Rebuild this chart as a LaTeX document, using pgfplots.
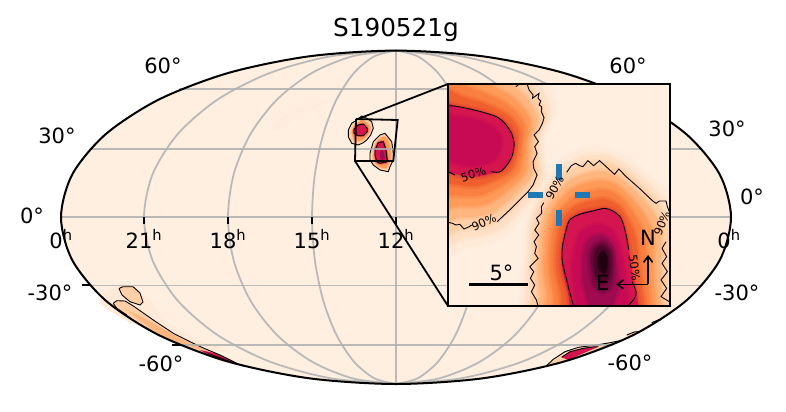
\documentclass[border=0pt]{standalone}
\usepackage{pgfplots}
\pgfplotsset{compat=1.18}
\usepackage{fontspec}
\setmainfont{DejaVu Sans}
\usetikzlibrary{arrows.meta}
\definecolor{bgc}{HTML}{FEEFE1}
\definecolor{gridc}{HTML}{B0B0B0}
\definecolor{Li}{HTML}{FEEDDD}
\definecolor{Lh}{HTML}{FFEAD8}
\definecolor{Lg}{HTML}{FFE0C6}
\definecolor{Lf}{HTML}{FFD0A8}
\definecolor{Le}{HTML}{FFB57E}
\definecolor{Ld}{HTML}{FF9A58}
\definecolor{Lc}{HTML}{F98040}
\definecolor{Lb}{HTML}{F0602E}
\definecolor{La}{HTML}{E23A38}
\definecolor{Ia}{HTML}{D5154F}
\definecolor{Ib}{HTML}{C80A55}
\definecolor{Ic}{HTML}{A00A50}
\definecolor{Id}{HTML}{780840}
\definecolor{Ie}{HTML}{480528}
\definecolor{If}{HTML}{200010}
\definecolor{crossb}{HTML}{1F77B4}
\tikzset{
  fl/.style={smooth cycle,draw=none,fill=#1},
  flb/.style={smooth cycle,draw=none,fill=#1,
     preaction={draw=#1,draw opacity=.3,line width=7bp},
     preaction={draw=#1,draw opacity=.4,line width=3.5bp}},
  flm/.style={smooth cycle,draw=none,fill=#1,
     preaction={draw=#1,draw opacity=.45,line width=2bp}},
  ct/.style={black,line width=0.9bp,sharp plot},
  ctS/.style={black,line width=0.9bp,smooth},
  gl/.style={gridc,opacity=.85,line width=1.8bp,smooth},
  gh/.style={gridc,opacity=.85,line width=1.8bp,sharp plot},
  bk/.style={black,line width=1.8bp,sharp plot},
}
\newcommand{\fs}[1]{\fontsize{#1bp}{#1bp}\selectfont}
\begin{document}
\begin{tikzpicture}
\useasboundingbox (0,0) rectangle (786bp,412bp);
\begin{axis}[at={(0,0)},anchor=south west,scale only axis,width=786bp,height=412bp,
  xmin=0,xmax=786,ymin=0,ymax=412,y dir=reverse,hide axis,clip=false]
% sky background
\addplot[draw=none,fill=bgc,smooth cycle] coordinates {(731,217.3)(719.6,260.4)(686.1,300.7)(632.9,335.2)(563.5,361.7)(482.7,378.3)(396,384)(309.3,378.3)(228.5,361.7)(159.1,335.2)(105.9,300.7)(72.4,260.4)(61,217.3)(72.4,174.2)(105.9,134)(159.1,99.4)(228.5,72.9)(309.3,56.3)(396,50.6)(482.7,56.3)(563.5,72.9)(632.9,99.4)(686.1,134)(719.6,174.2)};
% faint halos
\addplot[fl=Lh] coordinates {(100,302)(122,284)(150,300)(165,322)(195,338)(230,352)(190,345)(130,322)};
\addplot[fl=Li] coordinates {(272,125)(292,112)(315,100)(320,105)(296,118)(277,130)};
% southern crescents
\addplot[fl=Lf] coordinates {(119,288.5)(123,286.7)(133,286.7)(140,293)(143,302)(140,305)(130,301.7)(122,295)};
\addplot[draw=none,fill=Lf,sharp plot] coordinates {(113.3,303.3)(116.7,300.7)(125,301)(133.3,306)(153.3,320)(173.3,333.3)(193.3,343.3)(204,348.3)(220,355)(236.7,363.3)(242.7,366)(220,360.7)(200,353)(173.3,341.7)(146.7,326.7)(126.7,315)(116.7,308.3)} --cycle;
\addplot[draw=none,fill=Le,smooth,preaction={draw=Le,draw opacity=.45,line width=2bp}] coordinates {(130,312)(150,322)(175,336)(190,344)(204,350)(175,341)(150,328)} --cycle;
\addplot[draw=none,fill=Ia] coordinates {(200,350)(215,353)(230,359.5)(241,365.5)(225,361)(205,353)} --cycle;
\addplot[draw=none,fill=Ie] coordinates {(205,352)(220,357)(236.7,364)(222,360)} --cycle;
\addplot[draw=none,fill=Lf,sharp plot] coordinates {(546.7,365.5)(553.3,359.3)(565,351.7)(578.3,347.3)(596.7,345)(610,342.7)(620,340.7)(605,347.5)(590,353.2)(570,359.8)} --cycle;
\addplot[draw=none,fill=Ia,smooth] coordinates {(561.7,357.3)(570,351.7)(583.3,348.3)(595,346.7)(598.3,346.7)(583.3,353.3)(568.3,360)} --cycle;
\addplot[draw=none,fill=Lf] coordinates {(626.7,335)(635,331.7)(640,331.7)(630,337.3)} --cycle;
\addplot[ct] coordinates {(119,288.5)(123,286.7)(133,286.7)(140,293)(143,302)(140,305)(130,301.7)(122,295)(119,288.5)};
\addplot[ct] coordinates {(113.3,303.3)(116.7,300.7)(125,301)(133.3,306)(153.3,320)(173.3,333.3)(193.3,343.3)(204,348.3)(220,355)(236.7,363.3)(242.7,366)};
\addplot[ct] coordinates {(113.3,303.3)(116.7,308.3)(126.7,315)};
\addplot[ct] coordinates {(546.7,365.5)(553.3,359.3)(565,351.7)(578.3,347.3)(596.7,345)(610,342.7)(620,340.7)};
\addplot[ct] coordinates {(561.7,357.3)(570,351.7)(583.3,348.3)(595,346.7)(598.3,346.7)};
\addplot[ct] coordinates {(626.7,335)(635,331.7)(640,331.7)};
\addplot[ct] coordinates {(651.7,322.7)(658,320)(661,320)};
% northern blobs
\addplot[fl=Lf] coordinates {(356.7,120)(361.7,116)(366.7,118.3)(371.7,121.7)(373.3,128.3)(370.7,135)(366.7,140)(363.3,142.7)(358.3,145)(351.7,143.3)(348.3,136.7)(348.3,130)(351.7,123.3)};
\addplot[flm=Ld] coordinates {(358,123)(362,120.5)(366,122.5)(369,125)(370,129.5)(368,134)(365,137.5)(362.5,139.5)(359,141)(354.5,140)(352.5,135)(352.5,130.5)(354.5,126)};
\addplot[flm=Ia] coordinates {(354,129.3)(358.3,125)(363.3,124)(367.3,128.3)(367.3,131.7)(363.3,135.7)(358.3,135.7)(354,133.3)};
\addplot[ct] coordinates {(356.7,120)(361.7,116)(366.7,118.3)(371.7,121.7)(373.3,128.3)(370.7,135)(366.7,140)(363.3,142.7)(358.3,145)(351.7,143.3)(348.3,136.7)(348.3,130)(351.7,123.3)(356.7,120)};
\addplot[ct] coordinates {(354,129.3)(358.3,125)(363.3,124)(367.3,128.3)(367.3,131.7)(363.3,135.7)(358.3,135.7)(354,133.3)(354,129.3)};
\addplot[fl=Lf] coordinates {(370,153.3)(373.3,141.7)(380,135)(385,133.3)(391.7,141.7)(393.3,153.3)(393.3,160)(390,166.7)(388.3,171.7)(380,170)(373.3,165)(370,160)};
\addplot[flm=Ld] coordinates {(373.5,153)(376,143.5)(381,138.5)(385,137)(389,143.5)(390.5,153.3)(390.5,159)(388,164.5)(386,168)(380.5,167)(375.5,163)(373.5,159)};
\addplot[flm=Ia] coordinates {(375,150)(378.3,142.7)(383.3,141.7)(386,150)(387.3,161.7)(380,163.3)(376.7,161.7)(375,155)};
\addplot[fl=Ic] coordinates {(380,153)(382,150)(384,153)(384.5,159)(381,160.5)};
\addplot[ct] coordinates {(370,153.3)(373.3,141.7)(380,135)(385,133.3)(391.7,141.7)(393.3,153.3)(393.3,160)(390,166.7)(388.3,171.7)(380,170)(373.3,165)(370,160)(370,153.3)};
\addplot[ct] coordinates {(375,150)(378.3,142.7)(383.3,141.7)(386,150)(387.3,161.7)(380,163.3)(376.7,161.7)(375,155)(375,150)};
% graticule
\addplot[gh] coordinates {(179,89)(613,89)};
\addplot[gh] coordinates {(90,149)(702,149)};
\addplot[gh] coordinates {(61,217.3)(731,217.3)};
\addplot[gh] coordinates {(90,285.5)(702,285.5)};
\addplot[gh] coordinates {(179,345)(613,345)};
\addplot[gh] coordinates {(396,50.6)(396,384)};
\addplot[gl] coordinates {(396,50.6)(374.3,56.3)(354,72.9)(336.6,99.4)(323.3,134)(314.9,174.2)(312,217.3)(314.9,260.4)(323.3,300.7)(336.6,335.2)(354,361.7)(374.3,378.3)(396,384)};
\addplot[gl] coordinates {(396,50.6)(417.7,56.3)(438,72.9)(455.4,99.4)(468.7,134)(477.1,174.2)(480,217.3)(477.1,260.4)(468.7,300.7)(455.4,335.2)(438,361.7)(417.7,378.3)(396,384)};
\addplot[gl] coordinates {(396,50.6)(352.5,56.3)(312,72.9)(277.2,99.4)(250.5,134)(233.7,174.2)(228,217.3)(233.7,260.4)(250.5,300.7)(277.2,335.2)(312,361.7)(352.5,378.3)(396,384)};
\addplot[gl] coordinates {(396,50.6)(439.5,56.3)(480,72.9)(514.8,99.4)(541.5,134)(558.3,174.2)(564,217.3)(558.3,260.4)(541.5,300.7)(514.8,335.2)(480,361.7)(439.5,378.3)(396,384)};
\addplot[gl] coordinates {(396,50.6)(330.8,56.3)(270,72.9)(217.8,99.4)(177.8,134)(152.6,174.2)(144,217.3)(152.6,260.4)(177.8,300.7)(217.8,335.2)(270,361.7)(330.8,378.3)(396,384)};
\addplot[gl] coordinates {(396,50.6)(461.2,56.3)(522,72.9)(574.2,99.4)(614.2,134)(639.4,174.2)(648,217.3)(639.4,260.4)(614.2,300.7)(574.2,335.2)(522,361.7)(461.2,378.3)(396,384)};
% frame of the sky
\addplot[black,line width=2bp,smooth cycle] coordinates {(731,217.3)(719.6,260.4)(686.1,300.7)(632.9,335.2)(563.5,361.7)(482.7,378.3)(396,384)(309.3,378.3)(228.5,361.7)(159.1,335.2)(105.9,300.7)(72.4,260.4)(61,217.3)(72.4,174.2)(105.9,134)(159.1,99.4)(228.5,72.9)(309.3,56.3)(396,50.6)(482.7,56.3)(563.5,72.9)(632.9,99.4)(686.1,134)(719.6,174.2)};
% tick marks
\addplot[bk] coordinates {(144,217)(144,224)};
\addplot[bk] coordinates {(228,217)(228,224)};
\addplot[bk] coordinates {(312,217)(312,224)};
\addplot[bk] coordinates {(396,217)(396,224)};
\addplot[bk] coordinates {(81.7,285)(90,285)};
\addplot[bk] coordinates {(171.7,345)(181,345)};
% footprint of the inset
\addplot[bk] coordinates {(356,119)(397.7,120)(393.3,161)(355,161)(356,119)};
\addplot[bk] coordinates {(358,119)(448,84)};
\addplot[bk] coordinates {(355,161)(448,306)};
% texts
\node at (axis cs:396,30) {\fs{24.7}S190521g};
\node at (axis cs:163,66) {\fs{21}60°};
\node at (axis cs:628,66) {\fs{21}60°};
\node at (axis cs:57,136) {\fs{21}30°};
\node at (axis cs:727,129) {\fs{21}30°};
\node at (axis cs:32,216) {\fs{21}0°};
\node at (axis cs:752,197) {\fs{21}0°};
\node at (axis cs:50,293) {\fs{21}-30°};
\node at (axis cs:737,293) {\fs{21}-30°};
\node at (axis cs:161,364) {\fs{21}-60°};
\node at (axis cs:630,363) {\fs{21}-60°};
\node at (axis cs:61,239) {\fs{21}0\textsuperscript{h}};
\node at (axis cs:144,239) {\fs{21}21\textsuperscript{h}};
\node at (axis cs:228,239) {\fs{21}18\textsuperscript{h}};
\node at (axis cs:312,239) {\fs{21}15\textsuperscript{h}};
\node at (axis cs:396,239) {\fs{21}12\textsuperscript{h}};
\node at (axis cs:729,239) {\fs{21}0\textsuperscript{h}};
\end{axis}
% ---------------- inset ----------------
\begin{axis}[at={(448bp,106bp)},anchor=south west,scale only axis,width=222bp,height=222bp,
  xmin=24,xmax=692,ymin=27,ymax=693,y dir=reverse,xtick=\empty,ytick=\empty,
  axis on top,axis line style={black,line width=1.8bp},axis background/.style={fill=bgc}]
% level t=1.3
\addplot[flb=Lh] coordinates {(-20,-157)(177,-81)(302,5)(341,83)(338,124)(308,185)(313,250)(315,330)(197,474)(85,511)(-20,491)};
\addplot[flb=Lh] coordinates {(258,530)(258,460)(286,370)(365,260)(461,220)(547,243)(671,344)(720,427)(712,574)(712,706)(743,806)(264,806)(248,650)(251,587)};
% level t=1.15
\addplot[flb=Lg] coordinates {(-20,-128)(164,-60)(282,18)(323,89)(324,130)(298,188)(302,250)(300,325)(186,455)(78,486)(-20,466)};
\addplot[flb=Lg] coordinates {(270,530)(271,463)(298,378)(372,277)(465,241)(546,264)(658,359)(703,439)(697,577)(699,703)(727,803)(282,803)(264,650)(264,586)};
% level t=1
\addplot[flb=Lf] coordinates {(-20,-100)(150,-40)(262,30)(305,95)(310,135)(288,190)(290,250)(285,320)(175,435)(70,460)(-20,440)};
\addplot[flb=Lf] coordinates {(283,530)(285,465)(310,385)(380,295)(470,262)(545,285)(645,375)(685,450)(682,580)(685,700)(710,800)(300,800)(280,650)(278,585)};
% level t=.8
\addplot[flb=Le] coordinates {(-20,-62)(132,-13)(236,46)(281,103)(291,142)(275,193)(274,250)(265,313)(160,409)(60,426)(-20,406)};
\addplot[flb=Le] coordinates {(300,530)(303,468)(326,395)(390,318)(476,290)(544,313)(628,396)(662,465)(662,584)(667,696)(688,796)(324,796)(301,650)(296,584)};
% level t=.6
\addplot[flb=Ld] coordinates {(-20,-24)(114,15)(209,63)(257,111)(272,149)(262,196)(259,250)(245,306)(145,383)(50,392)(-20,372)};
\addplot[flb=Ld] coordinates {(317,530)(321,471)(342,405)(400,342)(482,318)(543,341)(611,417)(638,480)(641,588)(649,692)(666,792)(348,792)(322,650)(314,583)};
% level t=.4
\addplot[flb=Lc] coordinates {(-20,14)(96,42)(183,79)(233,119)(253,156)(248,199)(243,250)(225,299)(130,357)(40,358)(-20,338)};
\addplot[flb=Lc] coordinates {(333,530)(339,474)(358,415)(410,365)(488,346)(542,369)(594,438)(615,495)(621,592)(631,688)(644,788)(372,788)(343,650)(332,582)};
% level t=.2
\addplot[flb=Lb] coordinates {(-20,52)(78,70)(156,96)(209,127)(234,163)(235,202)(228,250)(205,292)(115,331)(30,324)(-20,304)};
\addplot[flb=Lb] coordinates {(350,530)(357,477)(374,425)(420,389)(494,374)(541,397)(577,459)(591,510)(600,596)(613,684)(622,784)(396,784)(364,650)(350,581)};
% level t=0, with its red fringe
\addplot[flb=La] coordinates {(-20,90)(60,97)(130,112)(185,135)(215,170)(222,205)(212,250)(185,285)(100,305)(20,290)(-20,270)};
\addplot[flb=La] coordinates {(367,530)(375,480)(390,435)(430,412)(500,402)(540,425)(560,480)(568,525)(580,600)(595,680)(600,780)(420,780)(385,650)(368,580)};
\addplot[fl=Ia] coordinates {(-20,90)(60,97)(130,112)(185,135)(215,170)(222,205)(212,250)(185,285)(100,305)(20,290)(-20,270)};
\addplot[fl=Ia] coordinates {(367,530)(375,480)(390,435)(430,412)(500,402)(540,425)(560,480)(568,525)(580,600)(595,680)(600,780)(420,780)(385,650)(368,580)};
% inner levels
\addplot[flb=Ib] coordinates {(10,130)(66,128)(115,138)(155,155)(178,180)(182,205)(175,235)(155,258)(100,272)(42,262)(10,245)};
\addplot[flb=Ib] coordinates {(400,560)(420,480)(470,450)(520,470)(545,540)(560,640)(560,720)(430,720)(405,640)};
\addplot[flb=Ic] coordinates {(430,560)(445,500)(485,480)(520,510)(530,570)(535,640)(510,700)(460,700)(435,640)};
\addplot[flb=Id] coordinates {(452,550)(462,515)(490,500)(515,525)(520,580)(515,630)(490,650)(462,625)};
\addplot[flb=Ie] coordinates {(465,550)(472,525)(490,515)(508,535)(510,575)(505,610)(488,620)(470,600)};
\addplot[flm=If] coordinates {(476,555)(482,535)(492,530)(502,545)(503,570)(498,590)(488,592)(478,578)};
% crosshair
\addplot[crossb,line width=6bp,sharp plot] coordinates {(358,267)(358,315)};
\addplot[crossb,line width=6bp,sharp plot] coordinates {(358,405)(358,452)};
\addplot[crossb,line width=6bp,sharp plot] coordinates {(265,360)(311,360)};
\addplot[crossb,line width=6bp,sharp plot] coordinates {(405,360)(451,360)};
% contours A
\addplot[ctS] coordinates {(24,92)(50,94)(90,102)(130,112)(170,125)(195,145)(215,175)(223,205)(218,240)(205,265)(185,288)(170,292)(155,290)};
\addplot[ctS] coordinates {(24,290)(45,300)};
\addplot[ct] coordinates {(228,35)(240,27)};
\addplot[ct] coordinates {(262,27)(268,45)(280,60)(278,70)(298,55)(295,70)(303,78)(298,90)(306,95)(305,110)(313,128)(308,145)(298,165)(283,180)(296,200)(285,215)(292,235)(280,260)(282,280)(292,300)(280,330)(265,350)(240,375)(215,400)(172,440)};
\addplot[ct] coordinates {(24,442)(38,445)(48,450)(60,448)(72,462)(88,455)(95,450)};
% contours B
\addplot[ct] coordinates {(381,292)(395,272)(408,265)(420,272)(430,275)(445,257)(462,272)(480,257)(500,275)(525,298)(538,282)(560,305)(600,340)(640,378)(650,385)(660,378)(680,378)(684,395)(690,410)};
\addplot[ct] coordinates {(312,383)(305,395)(306,415)(290,430)(298,445)(285,465)(297,480)(283,500)(290,515)(285,535)(295,550)(270,575)(282,590)(272,610)(285,630)(275,650)(290,675)(295,693)};
\addplot[ct] coordinates {(680,500)(668,520)(682,545)(668,565)(684,590)(665,615)(682,640)(665,665)(690,680)};
\addplot[ctS] coordinates {(568,525)(560,480)(545,430)(520,408)(495,400)(460,408)(420,418)(390,435)(378,470)(368,515)(368,560)(380,610)(390,650)(402,693)};
\addplot[ctS] coordinates {(578,620)(590,650)(585,670)(565,693)};
% scale bar and compass
\addplot[black,line width=3bp,sharp plot] coordinates {(88,628)(265,628)};
\addplot[black,line width=1.6bp,sharp plot,-{Straight Barb[length=6bp,width=9bp]}] coordinates {(626,628)(626,540)};
\addplot[black,line width=1.6bp,sharp plot,-{Straight Barb[length=6bp,width=9bp]}] coordinates {(626,628)(530,628)};
% labels
\node[rotate=17] at (axis cs:100,298) {\fs{11.5}50\%};
\node[rotate=25] at (axis cs:132,442) {\fs{11.5}90\%};
\node[rotate=62] at (axis cs:345,338) {\fs{11.5}90\%};
\node[rotate=68] at (axis cs:668,445) {\fs{11.5}90\%};
\node[rotate=-82] at (axis cs:585,578) {\fs{11.5}50\%};
\node at (axis cs:185,593) {\fs{21}5°};
\node at (axis cs:626,490) {\fs{21}N};
\node at (axis cs:490,623) {\fs{21}E};
\end{axis}
\end{tikzpicture}
\end{document}
